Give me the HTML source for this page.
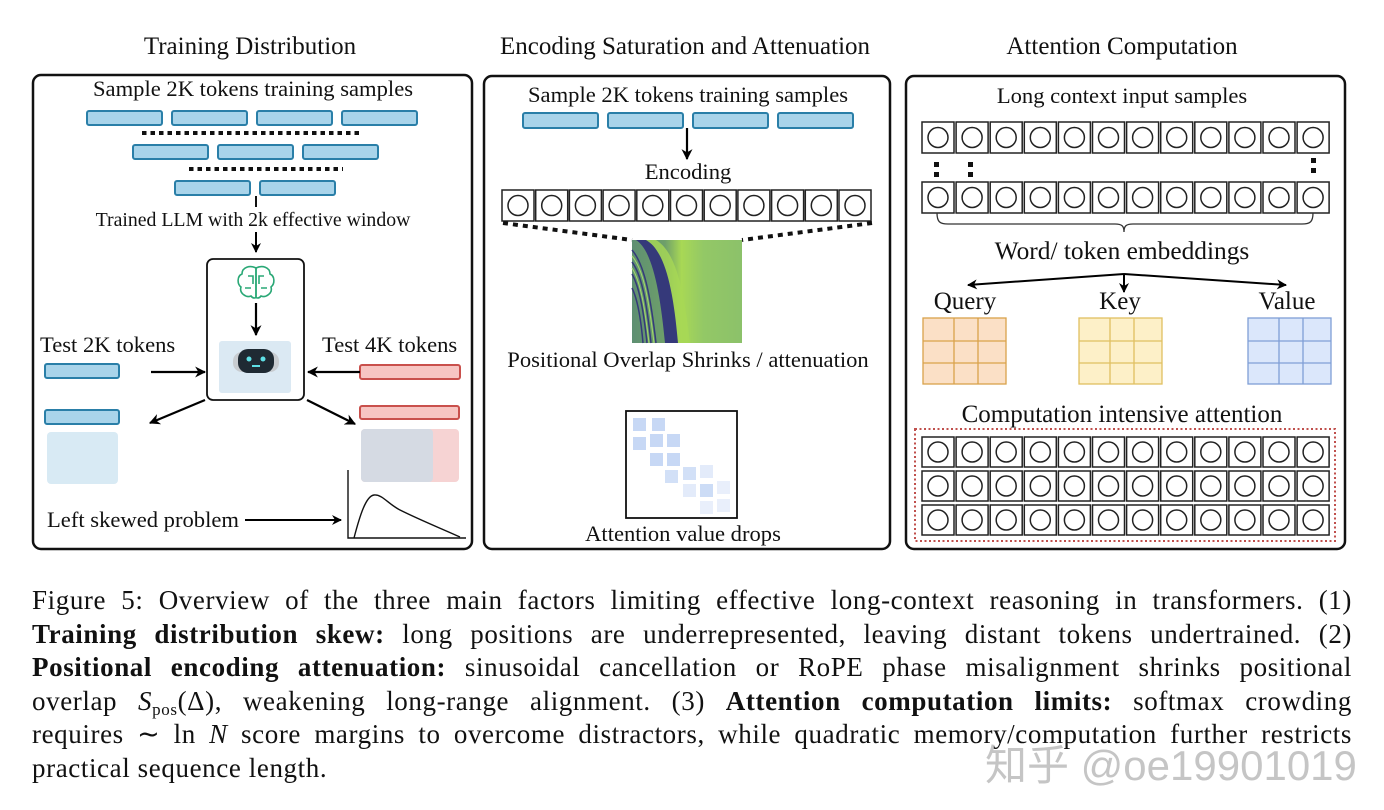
<!DOCTYPE html>
<html><head><meta charset="utf-8"><style>
html,body{margin:0;padding:0;background:#fff;}
body{width:1384px;height:810px;position:relative;overflow:hidden;}
svg{position:absolute;left:0;top:0;}
.cap{position:absolute;left:32px;width:1320px;font-family:"Liberation Serif",serif;font-size:27px;letter-spacing:0.6px;color:#111;line-height:33.5px;}
.cap div{height:33.5px;text-align:justify;text-align-last:justify;white-space:nowrap;}
.cap div.last{text-align-last:left;}
.cap sub{font-size:17px;line-height:0;vertical-align:-5px;}
.wm{position:absolute;left:985px;top:732px;font-family:"Liberation Sans","Noto Sans CJK SC",sans-serif;font-size:42px;color:rgba(150,150,150,0.55);white-space:nowrap;}
</style></head><body>
<svg width="1384" height="810" viewBox="0 0 1384 810" font-family="Liberation Serif, serif">
<defs>
<g id="c"><rect x="0" y="0" width="32" height="31" fill="#fff" stroke="#222" stroke-width="1.5"/><circle cx="16" cy="15.5" r="10" fill="none" stroke="#222" stroke-width="1.5"/></g>
<g id="c2"><rect x="0" y="0" width="32" height="30" fill="#fff" stroke="#222" stroke-width="1.5"/><circle cx="16" cy="15" r="10" fill="none" stroke="#222" stroke-width="1.5"/></g>
<marker id="ah" viewBox="0 0 10 10" refX="9" refY="5" markerWidth="5" markerHeight="5" orient="auto"><path d="M0,0 L10,5 L0,10 L3,5 z" fill="#000"/></marker>
<linearGradient id="hg" x1="0" x2="1" y1="0" y2="0"><stop offset="0" stop-color="#5e8f72"/><stop offset="0.3" stop-color="#6e9f6a"/><stop offset="0.45" stop-color="#a8d855"/><stop offset="0.65" stop-color="#93c866"/><stop offset="1" stop-color="#8cc16a"/></linearGradient>
</defs>
<g font-size="25" fill="#111" text-anchor="middle">
<text x="250" y="54">Training Distribution</text>
<text x="685" y="54">Encoding Saturation and Attenuation</text>
<text x="1122" y="54">Attention Computation</text>
</g>
<rect x="33" y="75" width="439" height="474" rx="8" fill="none" stroke="#111" stroke-width="2.5"/>
<rect x="484" y="76" width="406" height="473" rx="8" fill="none" stroke="#111" stroke-width="2.5"/>
<rect x="906" y="76" width="439" height="473" rx="8" fill="none" stroke="#111" stroke-width="2.5"/>

<!-- Panel 1 -->
<g font-size="22.6" fill="#111">
<text x="253" y="96" text-anchor="middle">Sample 2K tokens training samples</text>
<text x="253" y="226" text-anchor="middle" font-size="19.8">Trained LLM with 2k effective window</text>
<text x="40" y="352">Test 2K tokens</text>
<text x="322" y="352">Test 4K tokens</text>
<text x="47" y="527">Left skewed problem</text>
</g>
<g fill="#a9d4ea" stroke="#2a7fa8" stroke-width="2">
<rect x="87" y="111" width="75" height="14" rx="2"/><rect x="172" y="111" width="75" height="14" rx="2"/><rect x="257" y="111" width="75" height="14" rx="2"/><rect x="342" y="111" width="75" height="14" rx="2"/>
<rect x="133" y="145" width="75" height="14" rx="2"/><rect x="218" y="145" width="75" height="14" rx="2"/><rect x="303" y="145" width="75" height="14" rx="2"/>
<rect x="175" y="181" width="75" height="14" rx="2"/><rect x="260" y="181" width="75" height="14" rx="2"/>
<rect x="45" y="364" width="74" height="14" rx="2"/>
<rect x="45" y="410" width="74" height="14" rx="2"/>
</g>
<line x1="142" y1="133" x2="362" y2="133" stroke="#111" stroke-width="4" stroke-dasharray="4.5,4"/>
<line x1="189" y1="169" x2="343" y2="169" stroke="#111" stroke-width="4" stroke-dasharray="4.5,4"/>
<line x1="256" y1="196" x2="256" y2="207" stroke="#111" stroke-width="2"/>
<line x1="256" y1="232" x2="256" y2="252" stroke="#000" stroke-width="2" marker-end="url(#ah)"/>
<rect x="207" y="259" width="97" height="141" rx="6" fill="#fff" stroke="#111" stroke-width="1.8"/>
<g fill="none" stroke="#2aa876" stroke-width="1.6">
<path d="M256,268 C250,265 242,267 242,274 C237,276 237,284 241,287 C239,293 246,298 251,296 C253,299 256,298 256,297 Z"/>
<path d="M256,268 C262,265 270,267 270,274 C275,276 275,284 271,287 C273,293 266,298 261,296 C259,299 256,298 256,297"/>
<path d="M256,268 V297 M248,276 h5 v8 M264,276 h-5 v8 M245,288 h6 M267,288 h-6"/>
</g>
<line x1="256" y1="303" x2="256" y2="335" stroke="#000" stroke-width="2.2" marker-end="url(#ah)"/>
<rect x="219" y="341" width="72" height="52" rx="3" fill="#dbe9f3"/>
<rect x="233" y="352" width="46" height="20" rx="9" fill="#c8ccd0"/>
<rect x="238" y="349" width="36" height="24" rx="10" fill="#1f2a33"/>
<circle cx="249" cy="359" r="2.5" fill="#5fe0e6"/><circle cx="263" cy="359" r="2.5" fill="#5fe0e6"/>
<rect x="252" y="365" width="8" height="2" fill="#5fe0e6"/>
<line x1="151" y1="372" x2="205" y2="372" stroke="#000" stroke-width="2.2" marker-end="url(#ah)"/>
<g fill="#f7c5c2" stroke="#c9504c" stroke-width="2">
<rect x="360" y="365" width="100" height="14" rx="2"/>
<rect x="360" y="406" width="99" height="13" rx="2"/>
</g>
<line x1="360" y1="372" x2="308" y2="372" stroke="#000" stroke-width="2.2" marker-end="url(#ah)"/>
<line x1="205" y1="400" x2="150" y2="423" stroke="#000" stroke-width="2.2" marker-end="url(#ah)"/>
<line x1="307" y1="400" x2="355" y2="424" stroke="#000" stroke-width="2.2" marker-end="url(#ah)"/>
<rect x="47" y="432" width="71" height="52" rx="4" fill="#d8eaf4"/>
<rect x="361" y="429" width="98" height="53" rx="4" fill="#f6d3d3"/>
<rect x="361" y="429" width="72" height="53" rx="4" fill="#d5dae3"/>
<line x1="245" y1="520" x2="341" y2="520" stroke="#000" stroke-width="2" marker-end="url(#ah)"/>
<path d="M348,470 V538 H466" fill="none" stroke="#111" stroke-width="1.4"/>
<path d="M354,538 C360,515 366,496 374,495 C382,494 388,504 400,510 C420,520 440,528 460,537" fill="none" stroke="#111" stroke-width="1.4"/>

<!-- Panel 2 -->
<g font-size="22.6" fill="#111" text-anchor="middle">
<text x="688" y="102">Sample 2K tokens training samples</text>
<text x="688" y="179">Encoding</text>
<text x="688" y="367">Positional Overlap Shrinks / attenuation</text>
<text x="683" y="541">Attention value drops</text>
</g>
<g fill="#a9d4ea" stroke="#2a7fa8" stroke-width="2">
<rect x="523" y="113" width="75" height="15" rx="2"/><rect x="608" y="113" width="75" height="15" rx="2"/><rect x="693" y="113" width="75" height="15" rx="2"/><rect x="778" y="113" width="75" height="15" rx="2"/>
</g>
<line x1="687" y1="128" x2="687" y2="159" stroke="#000" stroke-width="2.2" marker-end="url(#ah)"/>
<use href="#c" x="502" y="190"/><use href="#c" x="535.7" y="190"/><use href="#c" x="569.4" y="190"/><use href="#c" x="603.1" y="190"/><use href="#c" x="636.8" y="190"/><use href="#c" x="670.5" y="190"/><use href="#c" x="704.2" y="190"/><use href="#c" x="737.9" y="190"/><use href="#c" x="771.6" y="190"/><use href="#c" x="805.3" y="190"/><use href="#c" x="839" y="190"/>
<line x1="503" y1="223" x2="632" y2="240" stroke="#111" stroke-width="4" stroke-dasharray="5,5"/>
<line x1="872" y1="223" x2="742" y2="240" stroke="#111" stroke-width="4" stroke-dasharray="5,5"/>
<rect x="632" y="240" width="110" height="103" fill="url(#hg)"/>
<path d="M640,240 C660,252 668,285 672,343 L690,343 C684,290 676,252 656,240 Z" fill="#a8d855" opacity="0.8"/>
<path d="M636,240 C652,250 660,290 665,343 L678,343 C673,285 664,250 646,240 Z" fill="#35397a"/>
<g fill="none" stroke="#35397a" stroke-width="1.5">
<path d="M632,250 C645,265 651,300 656,343"/>
<path d="M632,262 C642,275 647,305 651,343"/>
<path d="M632,274 C640,288 644,315 647,343"/>
<path d="M632,288 C638,300 641,320 643,343"/>
</g>
<g fill="none" stroke="#a6d86a" stroke-width="1"><path d="M632,256 C644,270 649,302 654,343"/><path d="M632,268 C641,282 645,310 649,343"/></g>
<rect x="626" y="411" width="111" height="107" fill="#fff" stroke="#111" stroke-width="1.8"/>
<g fill="#c7d8f5">
<rect x="633" y="418" width="13" height="13"/><rect x="652" y="418" width="13" height="13"/>
<rect x="633" y="437" width="13" height="13"/><rect x="650" y="434" width="13" height="13"/><rect x="667" y="434" width="13" height="13"/>
<rect x="650" y="453" width="13" height="13"/><rect x="667" y="453" width="13" height="13"/>
<rect x="665" y="470" width="13" height="13" opacity="0.8"/><rect x="683" y="467" width="13" height="13" opacity="0.8"/>
<rect x="700" y="465" width="13" height="13" opacity="0.5"/><rect x="683" y="484" width="13" height="13" opacity="0.5"/><rect x="700" y="484" width="13" height="13" opacity="0.9"/>
<rect x="717" y="481" width="13" height="13" opacity="0.4"/><rect x="700" y="501" width="13" height="13" opacity="0.4"/><rect x="717" y="499" width="13" height="13" opacity="0.4"/>
</g>

<!-- Panel 3 -->
<g font-size="22.6" fill="#111" text-anchor="middle">
<text x="1122" y="103">Long context input samples</text>
<text x="1122" y="259" font-size="25.4">Word/ token embeddings</text>
<text x="965" y="309" font-size="25">Query</text>
<text x="1120" y="309" font-size="25">Key</text>
<text x="1287" y="309" font-size="25">Value</text>
<text x="1122" y="422" font-size="25">Computation intensive attention</text>
</g>
<g id="row1">
<use href="#c" x="922" y="122"/><use href="#c" x="956.1" y="122"/><use href="#c" x="990.2" y="122"/><use href="#c" x="1024.3" y="122"/><use href="#c" x="1058.4" y="122"/><use href="#c" x="1092.5" y="122"/><use href="#c" x="1126.6" y="122"/><use href="#c" x="1160.7" y="122"/><use href="#c" x="1194.8" y="122"/><use href="#c" x="1228.9" y="122"/><use href="#c" x="1263" y="122"/><use href="#c" x="1297.1" y="122"/>
</g>
<use href="#row1" y="60"/>
<g fill="#111"><rect x="934" y="162" width="5" height="5"/><rect x="934" y="172" width="5" height="5"/><rect x="968" y="162" width="5" height="5"/><rect x="968" y="172" width="5" height="5"/><rect x="1311" y="158" width="5" height="5"/><rect x="1311" y="168" width="5" height="5"/></g>
<path d="M937,213 C937,222 940,224 948,224 L1115,224 C1122,224 1124,226 1124,232 C1124,226 1126,224 1133,224 L1302,224 C1310,224 1313,222 1313,213" fill="none" stroke="#333" stroke-width="1.3"/>
<line x1="1124" y1="274" x2="968" y2="285" stroke="#000" stroke-width="2" marker-end="url(#ah)"/>
<line x1="1124" y1="274" x2="1286" y2="285" stroke="#000" stroke-width="2" marker-end="url(#ah)"/>
<line x1="1124" y1="274" x2="1124" y2="292" stroke="#000" stroke-width="2" marker-end="url(#ah)"/>
<g stroke="#d9a24a" stroke-width="1.3" fill="#fbe0c6"><rect x="923" y="318" width="83" height="66"/><path d="M954,318V384M978,318V384M923,341H1006M923,363H1006" fill="none"/></g>
<g stroke="#e0c060" stroke-width="1.3" fill="#fdf0c8"><rect x="1079" y="318" width="83" height="66"/><path d="M1110,318V384M1134,318V384M1079,341H1162M1079,363H1162" fill="none"/></g>
<g stroke="#7f9fd6" stroke-width="1.3" fill="#dbe7fb"><rect x="1248" y="318" width="83" height="66"/><path d="M1279,318V384M1303,318V384M1248,341H1331M1248,363H1331" fill="none"/></g>
<rect x="915" y="429" width="420" height="112" fill="none" stroke="#c0504d" stroke-width="2" stroke-dasharray="2,2.5"/>
<g id="r3"><use href="#c2" x="922" y="437"/><use href="#c2" x="956.1" y="437"/><use href="#c2" x="990.2" y="437"/><use href="#c2" x="1024.3" y="437"/><use href="#c2" x="1058.4" y="437"/><use href="#c2" x="1092.5" y="437"/><use href="#c2" x="1126.6" y="437"/><use href="#c2" x="1160.7" y="437"/><use href="#c2" x="1194.8" y="437"/><use href="#c2" x="1228.9" y="437"/><use href="#c2" x="1263" y="437"/><use href="#c2" x="1297.1" y="437"/></g>
<use href="#r3" y="34"/><use href="#r3" y="68"/>
</svg>
<div class="cap" style="top:584px">
<div>Figure 5: Overview of the three main factors limiting effective long-context reasoning in transformers. (1)</div>
<div><b>Training distribution skew:</b> long positions are underrepresented, leaving distant tokens undertrained. (2)</div>
<div><b>Positional encoding attenuation:</b> sinusoidal cancellation or RoPE phase misalignment shrinks positional</div>
<div>overlap <i>S</i><sub>pos</sub>(Δ), weakening long-range alignment. (3) <b>Attention computation limits:</b> softmax crowding</div>
<div>requires ∼ ln <i>N</i> score margins to overcome distractors, while quadratic memory/computation further restricts</div>
<div class="last">practical sequence length.</div>
</div>
<div class="wm">知乎 @oe19901019</div>
</body></html>
